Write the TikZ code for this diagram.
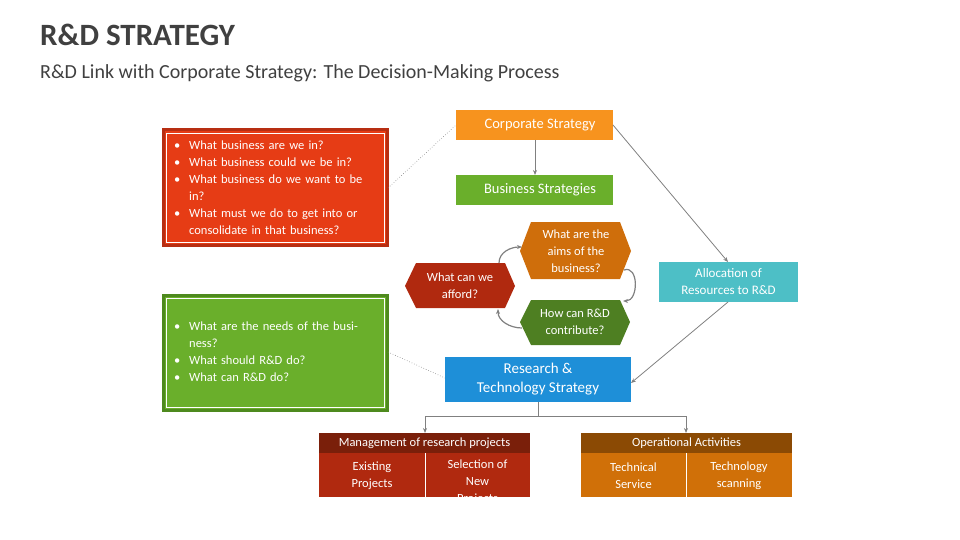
\documentclass[tikz,border=0pt]{standalone}
\usepackage{fontspec}
\setmainfont{Carlito}
\usetikzlibrary{arrows.meta}
\definecolor{titlec}{HTML}{404040}
\definecolor{corp}{HTML}{F7931E}
\definecolor{bus}{HTML}{6AAF2B}
\definecolor{redb}{HTML}{E63C15}
\definecolor{redbd}{HTML}{B72E12}
\definecolor{greenbd}{HTML}{4E8A1E}
\definecolor{aims}{HTML}{CF6E0B}
\definecolor{afford}{HTML}{B0290F}
\definecolor{contr}{HTML}{4E7F22}
\definecolor{alloc}{HTML}{4DBFC6}
\definecolor{rts}{HTML}{1E8FD8}
\definecolor{mgmth}{HTML}{7A1F0A}
\definecolor{oph}{HTML}{8B4A04}
\definecolor{opc}{HTML}{D07008}
\definecolor{conn}{HTML}{808080}
\newcommand{\qitem}[1]{\noindent\hangindent=15pt\hangafter=1\makebox[15pt][l]{\textbullet}#1\par}
\begin{document}
\begin{tikzpicture}[x=1pt,y=-1pt,
  box/.style={text=white,align=center,inner sep=0pt,font=\fontsize{14.5}{17}\selectfont},
  arr/.style={draw=conn,line width=0.8pt,-{Stealth[length=5pt,width=4pt]}},
  dots/.style={draw=conn,line width=0.6pt,dotted},
  qtext/.style={text=white,inner sep=0pt,font=\fontsize{12.5}{17}\selectfont,text width=190pt,anchor=west}]
\useasboundingbox (0,0) rectangle (960,540);
\node[anchor=west,inner sep=0pt,text=titlec,font=\fontsize{31}{34}\selectfont\bfseries] (title) at (40,35) {R\&D STRATEGY};
\node[anchor=west,inner sep=0pt,text=titlec,font=\fontsize{20}{24}\selectfont] (sub) at (40,73) {R\&D Link with Corporate Strategy: The Decision-Making Process};
% top boxes
\fill[corp] (456,110) rectangle (613,140);
\node[box] (corp) at (540,125) {Corporate Strategy};
\coordinate (corpL) at (456,125); \coordinate (corpR) at (613,125);
\coordinate (corpB) at (535,140);
\fill[bus] (456,175) rectangle (613,205);
\node[box] (bus) at (540,190) {Business Strategies};
\coordinate (busT) at (535,175);
% question boxes
\fill[redb,draw=redbd,line width=3pt] (163,130) rectangle (387,245);
\draw[white,line width=0.6pt] (166,133) rectangle (384,242);
\node[qtext] (qred) at (174,187.5) {\qitem{What business are we in?}\qitem{What business could we be in?}\qitem{What business do we want to be in?}\qitem{What must we do to get into or consolidate in that business?}};
\fill[bus,draw=greenbd,line width=3pt] (163,295) rectangle (387,410);
\draw[white,line width=0.6pt] (166,298) rectangle (384,407);
\node[qtext] (qgreen) at (174,352) {\qitem{What are the needs of the business?}\qitem{What should R\&D do?}\qitem{What can R\&D do?}};
\coordinate (redR) at (388,188); \coordinate (greenR) at (388,352);
% hexagons
\fill[aims] (531,222)--(620,222)--(631,251)--(620,279)--(531,279)--(520,251)--cycle;
\node[box,font=\fontsize{12.5}{16.8}\selectfont] (aims) at (576,251) {What are the\\aims of the\\business?};
\fill[afford] (416,263)--(505,263)--(515,286)--(505,308)--(416,308)--(405,286)--cycle;
\node[box,font=\fontsize{12.5}{16.8}\selectfont] (afford) at (460,286) {What can we\\afford?};
\fill[contr] (531,300)--(620,300)--(630,322)--(620,345)--(531,345)--(520,322)--cycle;
\node[box,font=\fontsize{12.5}{16.8}\selectfont] (contr) at (575,322) {How can R\&D\\contribute?};
\coordinate (affT) at (499,263); \coordinate (aimsL) at (522,247);
\coordinate (aimsBR) at (624,270); \coordinate (contrTR) at (623,301);
\coordinate (contrL) at (522,328); \coordinate (affB) at (498,309);
\draw[arr,line width=1.2pt] (affT) to[out=90,in=180] (aimsL);
\draw[arr,line width=1.2pt] (aimsBR) to[out=20,in=0,looseness=1.3] (contrTR);
\draw[arr,line width=1.2pt] (contrL) to[out=180,in=-90] (affB);
% allocation
\fill[alloc] (659,262) rectangle (798,302);
\node[box,font=\fontsize{13}{17}\selectfont] (alloc) at (728.5,282) {Allocation of\\Resources to R\&D};
\coordinate (allocT) at (728,262); \coordinate (allocB) at (728,302);
% R&T
\fill[rts] (445,357) rectangle (631,402);
\node[box,font=\fontsize{15}{19}\selectfont] (rts) at (538,379.5) {Research \&\\Technology Strategy};
\coordinate (rtsR) at (631,383); \coordinate (rtsL) at (445,378); \coordinate (rtsB) at (538,402);
% connectors
\draw[arr] (corpB) -- (busT);
\draw[arr] (corpR) -- (allocT);
\draw[arr] (allocB) -- (rtsR);
\draw[dots] (redR) -- (corpL);
\draw[dots] (greenR) -- (rtsL);
\coordinate (split) at (538,416);
\coordinate (mgT) at (425,433); \coordinate (opT) at (686,433);
\draw[arr] (rtsB) -- (split) -| (mgT);
\draw[arr] (split) -| (opT);
% bottom tables
\fill[mgmth] (319,433) rectangle (530,453);
\node[box,font=\fontsize{12.5}{14}\selectfont] (mgh) at (424.5,443) {Management of research projects};
\fill[afford] (319,453) rectangle (530,497);
\draw[white,line width=0.8pt] (425,453) -- (425,497);
\node[box,font=\fontsize{12.5}{17}\selectfont] (exist) at (372,476) {Existing\\Projects};
\begin{scope}
\clip (425,453) rectangle (530,497);
\node[box,font=\fontsize{12.5}{17}\selectfont,anchor=north] (sel) at (477.5,460) {Selection of\\New\\Projects};
\end{scope}
\fill[oph] (581,433) rectangle (792,453);
\node[box,font=\fontsize{12.5}{14}\selectfont] (oph) at (686.5,443) {Operational Activities};
\fill[opc] (581,453) rectangle (792,497);
\draw[white,line width=0.8pt] (686,453) -- (686,497);
\node[box,font=\fontsize{12.5}{17}\selectfont] (tech) at (633.5,476) {Technical\\Service};
\node[box,font=\fontsize{12.5}{17}\selectfont] (scan) at (739,476) {Technology\\scanning};
\end{tikzpicture}
\end{document}
